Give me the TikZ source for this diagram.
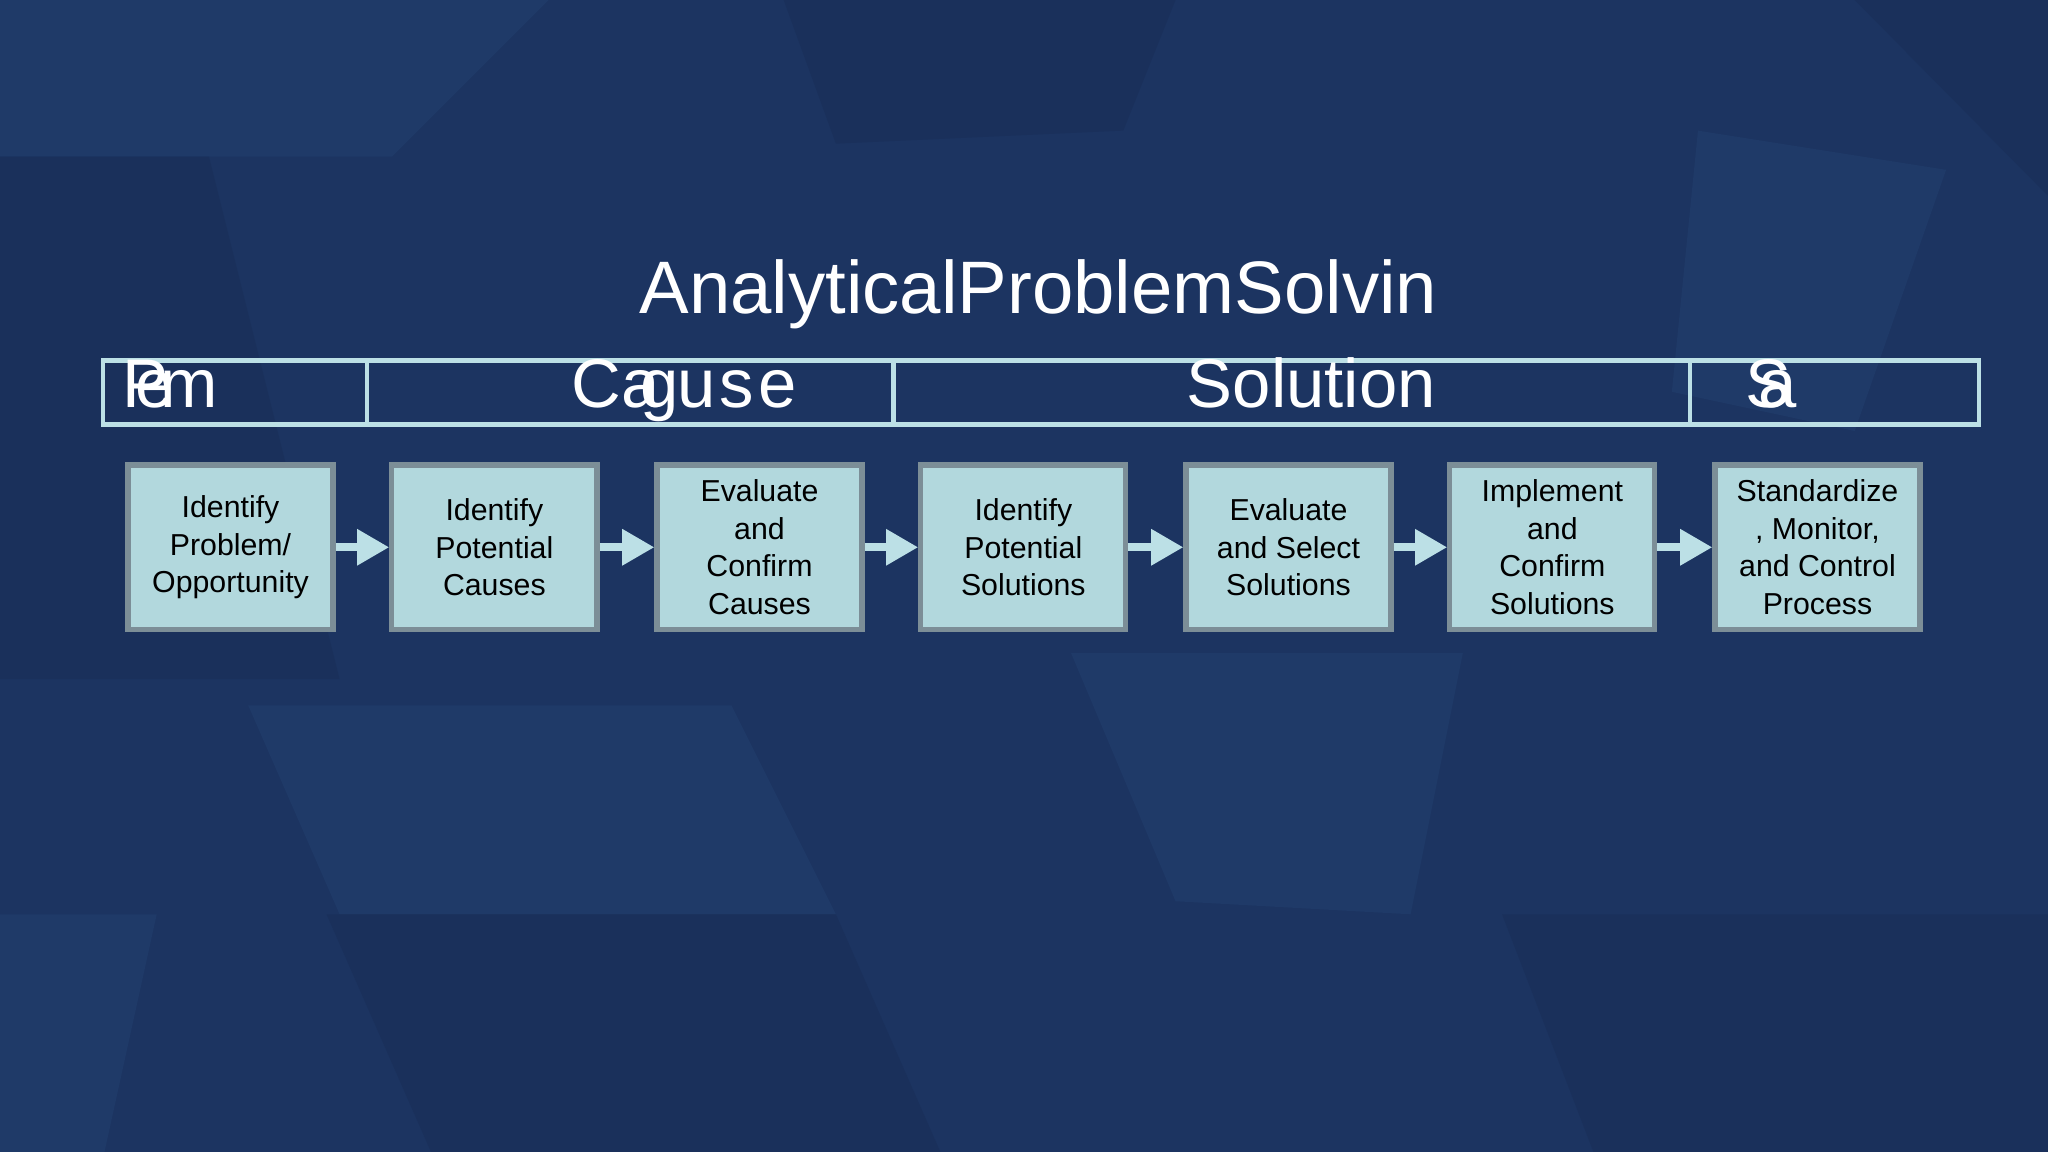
\documentclass[tikz,border=0pt]{standalone}
\usepackage{fontspec}
\setmainfont{Liberation Sans}
\usetikzlibrary{arrows.meta}
\definecolor{bg}{HTML}{1C3461}
\definecolor{bgA}{HTML}{1F3A68}
\definecolor{bgB}{HTML}{1A305B}
\definecolor{boxf}{HTML}{B2D8DD}
\definecolor{boxd}{HTML}{7C8E97}
\definecolor{lite}{HTML}{BCE0E6}
\tikzset{
 stepbox/.style={draw=boxd,line width=0.4mm,fill=boxf,minimum width=15.7mm,minimum height=12.6mm,inner sep=0,align=center,font=\fontsize{6.6}{8.2}\selectfont,text=black,anchor=north west},
 hdr/.style={font=\fontsize{15}{15}\selectfont,text=white,inner sep=0,anchor=base west},
 conn/.style={draw=lite,line width=0.6mm,-{Triangle[length=7pt,width=7.5pt]}}
}
\begin{document}
\begin{tikzpicture}[x=0.1mm,y=-0.1mm]
\useasboundingbox (0,0) rectangle (1568,882);
\fill[bg] (0,0) rectangle (1568,882);
\fill[bgA] (0,0) -- (420,0) -- (300,120) -- (0,120) -- cycle;
\fill[bgB] (0,120) -- (160,120) -- (260,520) -- (0,520) -- cycle;
\fill[bgA] (1300,100) -- (1490,130) -- (1420,330) -- (1280,300) -- cycle;
\fill[bgB] (1420,0) -- (1568,0) -- (1568,150) -- cycle;
\fill[bgA] (190,540) -- (560,540) -- (640,700) -- (260,700) -- cycle;
\fill[bgB] (250,700) -- (640,700) -- (720,882) -- (330,882) -- cycle;
\fill[bgA] (0,700) -- (120,700) -- (80,882) -- (0,882) -- cycle;
\fill[bgB] (1150,700) -- (1568,700) -- (1568,882) -- (1220,882) -- cycle;
\fill[bgA] (820,500) -- (1120,500) -- (1080,700) -- (900,690) -- cycle;
\fill[bgB] (600,0) -- (900,0) -- (860,100) -- (640,110) -- cycle;
\node[font=\fontsize{16.2}{16.2}\selectfont,text=white,inner sep=0] (title) at (795,225) {AnalyticalProblemSolvin};
\draw[lite,line width=0.35mm] (79,276) rectangle (1515,325);
\foreach \x in {281,684,1294} \draw[lite,line width=0.35mm] (\x,276) -- (\x,325);
\node[hdr] (h1) at (93,312) {P};
\node[hdr] (h2) at (103,312) {e};
\node[hdr] (h3) at (122,312) {m};
\node[hdr] (h4) at (437,312) {Ca};
\node[hdr] (h5) at (490,312) {g};
\node[hdr] (h6) at (518,312) {u};
\node[hdr] (h6b) at (550,312) {s};
\node[hdr] (h6c) at (580,312) {e};
\node[hdr] (h7) at (908,312) {Solution};
\node[hdr] (h8) at (1336,312) {S};
\node[hdr] (h9) at (1346,312) {a};
\node[stepbox] (b1) at (96,354) {Identify\\Problem/\\Opportunity};
\node[stepbox] (b2) at (298,354) {Identify\\Potential\\Causes};
\node[stepbox] (b3) at (501,354) {Evaluate\\and\\Confirm\\Causes};
\node[stepbox] (b4) at (703,354) {Identify\\Potential\\Solutions};
\node[stepbox] (b5) at (906,354) {Evaluate\\and Select\\Solutions};
\node[stepbox] (b6) at (1108,354) {Implement\\and\\Confirm\\Solutions};
\node[stepbox] (b7) at (1311,354) {Standardize\\, Monitor,\\and Control\\Process};
\foreach \a/\b in {b1/b2,b2/b3,b3/b4,b4/b5,b5/b6,b6/b7}
  \draw[conn] (\a.east) -- (\b.west);
\end{tikzpicture}
\end{document}
